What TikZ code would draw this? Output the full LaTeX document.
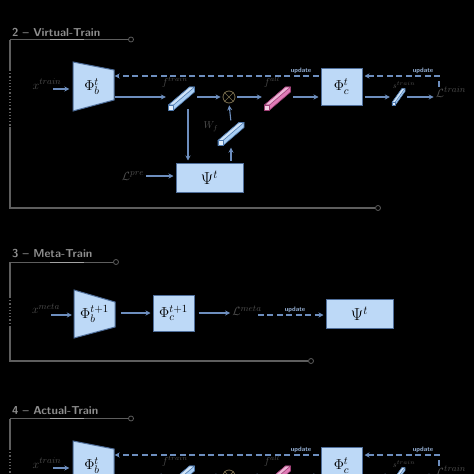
\documentclass[tikz,border=0pt]{standalone}
\usetikzlibrary{calc,arrows.meta}
\definecolor{boxfill}{HTML}{BDD9F7}
\definecolor{boxdraw}{HTML}{4F6E9A}
\definecolor{arrc}{HTML}{6D8EBE}
\definecolor{barfill}{HTML}{A9CEF3}
\definecolor{bardraw}{HTML}{4F7AAE}
\definecolor{pinkfill}{HTML}{E07AB6}
\definecolor{pinkdraw}{HTML}{9E3F76}
\definecolor{txtc}{HTML}{505050}
\definecolor{titc}{HTML}{8E8E8E}
\definecolor{framec}{HTML}{5E5E5E}
\definecolor{updc}{HTML}{9DB9DF}
\definecolor{otimc}{HTML}{7A6E4E}
\tikzset{
 box/.style={draw=boxdraw, fill=boxfill, line width=1, inner sep=0, text=black, font=\fontsize{15}{17}\selectfont},
 lbl/.style={text=txtc, inner sep=0, font=\fontsize{13}{15}\selectfont},
 slbl/.style={text=txtc, inner sep=0, font=\fontsize{10}{11}\selectfont},
 arr/.style={draw=arrc, line width=1.1, -{Stealth[length=5pt,width=5pt]}, shorten >=2pt, shorten <=2pt},
 dsh/.style={arr, dash pattern=on 6pt off 3.5pt},
 upd/.style={text=updc, font=\sffamily\bfseries\fontsize{6.5}{7}\selectfont, inner sep=0},
 frame/.style={draw=framec, line width=1.2},
 titl/.style={text=titc, font=\sffamily\bfseries\fontsize{11.5}{13}\selectfont, anchor=west, inner sep=0},
 endc/.style={circle, draw=framec, fill=black, line width=0.8, minimum size=5pt, inner sep=0},
 hold/.style={inner sep=0, minimum width=#1},
 otim/.style={circle, draw=otimc, line width=0.8, minimum size=12pt, inner sep=0},
}
\newcommand\bigbar[3]{%
 \begin{scope}[shift={(#1)}, line width=0.6, line join=round]
  \filldraw[fill=#2, draw=#3] (-13,6.5) -- (8,-11.5) -- (13,-11.5) -- (13,-6.5) -- (-8,11.5) -- (-13,11.5) -- cycle;
  \filldraw[fill=#2!55!white, draw=#3] (-13,6.5) -- (8,-11.5) -- (13,-11.5) -- (-8,6.5) -- cycle;
  \filldraw[fill=#2!35!white, draw=#3] (-13,6.5) rectangle (-8,11.5);
 \end{scope}}
\newcommand\thinbar[3]{%
 \begin{scope}[shift={(#1)}, line width=0.5, line join=round]
  \filldraw[fill=#2, draw=#3] (-6.5,5.5) -- (3.5,-8.5) -- (6.5,-8.5) -- (6.5,-5.5) -- (-3.5,8.5) -- (-6.5,8.5) -- cycle;
  \filldraw[fill=#2!55!white, draw=#3] (-6.5,5.5) -- (3.5,-8.5) -- (6.5,-8.5) -- (-3.5,5.5) -- cycle;
  \filldraw[fill=#2!35!white, draw=#3] (-6.5,5.5) rectangle (-3.5,8.5);
 \end{scope}}
\newcommand\trainsec[3]{%
 \begin{scope}[shift={(0,#2)}]
  \node[titl] (t#1) at (12,32) {#3};
  \node[endc] (ea#1) at (131,39.5) {};
  \node[endc] (eb#1) at (378,208) {};
  \draw[framec, line width=0.8] (10,39.5) -- (ea#1.west);
  \draw[titc!80, line width=0.8] (50,39.5) -- (84,39.5);
  \draw[frame] (10,39.5) -- (10,70);
  \draw[frame, dotted] (10,70) -- (10,127);
  \draw[frame] (10,127) -- (10,208) -- (eb#1.west);
  % blocks
  \path[box] (73,62) -- (114,70) -- (114,100) -- (73,111) -- cycle;
  \node[inner sep=0, minimum width=41pt, minimum height=49pt, font=\fontsize{15}{17}\selectfont] (b#1) at (92,86.5) {$\Phi_b^t$};
  \node[box, minimum width=41pt, minimum height=37pt] (c#1) at (341.5,86.5) {$\Phi_c^t$};
  \node[box, minimum width=67pt, minimum height=29pt, font=\fontsize{18}{20}\selectfont] (p#1) at (209.5,177.5) {$\Psi^t$};
  % labels
  \node[lbl] (x#1) at (47,84) {$x^{train}$};
  \coordinate (xs#1) at (51,89);
  \node[lbl] (lp#1) at (133,176) {$\mathcal{L}^{pre}$};
  \node[lbl] (L#1) at (451,92) {$\mathcal{L}^{train}$};
  % bars
  \node[hold=27pt, minimum height=23pt] (f#1) at (181.5,98.5) {};
  \bigbar{f#1}{barfill}{bardraw}
  \node[slbl] (fl#1) at (175,82) {$f^{train}$};
  \node[otim] (o#1) at (229,97) {};
  \draw[otimc, line width=0.7] (o#1.north east) -- (o#1.south west) (o#1.north west) -- (o#1.south east);
  \node[hold=27pt, minimum height=23pt] (g#1) at (277.5,98.5) {};
  \bigbar{g#1}{pinkfill}{pinkdraw}
  \node[slbl] (gl#1) at (272,82) {$f^{all}$};
  \node[hold=13pt, minimum height=17pt] (s#1) at (398.5,97) {};
  \thinbar{s#1}{barfill}{bardraw}
  \node[slbl, font=\fontsize{8}{9}\selectfont] (sl#1) at (404,85) {$s^{train}$};
  \node[hold=27pt, minimum height=23pt] (w#1) at (231,134) {};
  \bigbar{w#1}{barfill}{bardraw}
  \node[slbl] (wl#1) at (211,127) {$W_f$};
  % connectors
  \draw[arr] (xs#1) -- (b#1.west |- xs#1);
  \draw[arr] (b#1.east |- o#1.west) -- (f#1.west |- o#1.west);
  \draw[arr] (f#1.east |- o#1.west) -- (o#1.west);
  \draw[arr] (o#1.east) -- (g#1.west |- o#1.east);
  \draw[arr] (g#1.east |- o#1.east) -- (c#1.west |- o#1.east);
  \draw[arr] (c#1.east |- o#1.east) -- (s#1.west |- o#1.east);
  \draw[arr] (s#1.east |- o#1.east) -- (L#1.west |- o#1.east);
  \coordinate (u#1) at (439,76);
  \draw[dsh, shorten <=0pt] (L#1.north -| u#1) -- (u#1) -- (c#1.east |- u#1);
  \draw[dsh] (c#1.west |- u#1) -- (b#1.east |- u#1);
  \node[upd] at (423,71) {update};
  \node[upd] at (301,71) {update};
  \draw[arr] ($(f#1.south)+(6.5,-3)$) coordinate (d#1) -- (d#1 |- p#1.north);
  \draw[arr] (lp#1.east) -- (p#1.west |- lp#1.east);
  \draw[arr] (p#1.north -| w#1.south) -- (w#1.south);
  \draw[arr] (w#1.north) -- (o#1.south);
 \end{scope}}
\begin{document}
\begin{tikzpicture}[x=1pt,y=-1pt]
\useasboundingbox (0,0) rectangle (474,474);
\fill[black] (0,0) rectangle (474,474);
\clip (0,0) rectangle (474,474);
\trainsec{a}{0}{2 -- Virtual-Train}
% ---------------- section 3
\node[titl] (t3) at (12,254) {3 -- Meta-Train};
\node[endc] (e3a) at (116,262) {};
\node[endc] (e3b) at (311,361) {};
\draw[framec, line width=0.8] (10,262) -- (e3a.west);
\draw[titc!80, line width=0.8] (50,262) -- (84,262);
\draw[frame] (10,262) -- (10,297);
\draw[frame, dotted] (10,297) -- (10,327);
\draw[frame] (10,327) -- (10,361) -- (e3b.west);
\path[box] (74,290) -- (115,302) -- (115,327) -- (74,338) -- cycle;
\node[inner sep=0, minimum width=41pt, minimum height=48pt, font=\fontsize{15}{17}\selectfont] (bm) at (94.5,314) {$\Phi_b^{t+1}$};
\node[box, minimum width=41pt, minimum height=36pt] (cm) at (173.5,313) {$\Phi_c^{t+1}$};
\node[box, minimum width=67pt, minimum height=29pt, font=\fontsize{18}{20}\selectfont] (pm) at (359.5,313.5) {$\Psi^t$};
\node[lbl] (xm) at (46,309) {$x^{meta}$};
\coordinate (xsm) at (49,315);
\node[lbl] (lm) at (247,311) {$\mathcal{L}^{meta}$};
\draw[arr] (xsm) -- (bm.west |- xsm);
\draw[arr, shorten <=6pt] (bm.east |- cm.west) -- (cm.west);
\draw[arr, shorten <=4pt] (cm.east) -- (lm.west |- cm.east);
\draw[dsh, shorten <=-4pt] (lm.east |- xsm) -- (pm.west |- xsm);
\node[upd] at (295,310) {update};
% ---------------- section 4
\trainsec{b}{379}{4 -- Actual-Train}
\end{tikzpicture}
\end{document}
